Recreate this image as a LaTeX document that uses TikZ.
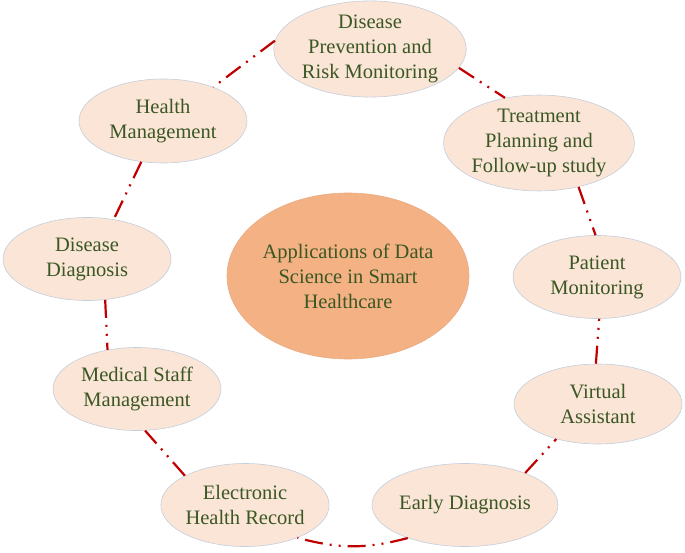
\documentclass[tikz,border=0pt]{standalone}
\usepackage{fontspec}
\setmainfont{Liberation Serif}
\usetikzlibrary{shapes.geometric}
\definecolor{txt}{HTML}{3A5724}
\definecolor{bub}{HTML}{FBE5D6}
\definecolor{hub}{HTML}{F4B183}
\definecolor{rim}{HTML}{C3CEDD}
\definecolor{lnk}{HTML}{C00000}
\begin{document}
\begin{tikzpicture}[x=1pt,y=-1pt,
  bubble/.style={ellipse, fill=bub, draw=rim, line width=0.6pt, inner sep=0pt,
    text=txt, align=center, font=\fontsize{20.5}{25}\selectfont,
    minimum width=168pt, minimum height=83pt},
  hubstyle/.style={bubble, fill=hub, draw=hub!90!gray},
  link/.style={draw=lnk, line width=2.2pt,
    dash pattern=on 18pt off 7pt on 2pt off 7pt on 2pt off 7pt}]
\useasboundingbox (0,0) rectangle (685,553);
\node[bubble, minimum width=190pt, minimum height=92pt] (dp) at (370,49) {Disease\\Prevention and\\Risk Monitoring};
\node[bubble, minimum width=188pt, minimum height=94pt] (tp) at (539,143) {Treatment\\Planning and\\Follow-up study};
\node[bubble] (pm) at (597,277) {Patient\\Monitoring};
\node[bubble, minimum height=80pt] (va) at (598,404) {Virtual\\Assistant};
\node[bubble] (ed) at (465,505) {Early Diagnosis};
\node[bubble] (ehr) at (245,505) {Electronic\\Health Record};
\node[bubble] (ms) at (137,389) {Medical Staff\\Management};
\node[bubble] (dd) at (87,259) {Disease\\Diagnosis};
\node[bubble, minimum height=84pt] (hm) at (163,121) {Health\\Management};
\node[hubstyle, minimum width=242pt, minimum height=166pt] (hub) at (348,276) {Applications of Data\\Science in Smart\\Healthcare};
\draw[link] (dp.175) -- (hm.34);
\draw[link] (dp.-12) -- (tp.127);
\draw[link] (tp.-48) -- (pm.92);
\draw[link] (va.93) -- (pm.-87);
\draw[link] (ed.28) -- (va.-140);
\draw[link] (ed.-150) to[bend left=15] (ehr.-32);
\draw[link] (ehr.154) -- (ms.-79);
\draw[link] (dd.-66) -- (ms.127);
\draw[link] (hm.-118) -- (dd.56);
\end{tikzpicture}
\end{document}
